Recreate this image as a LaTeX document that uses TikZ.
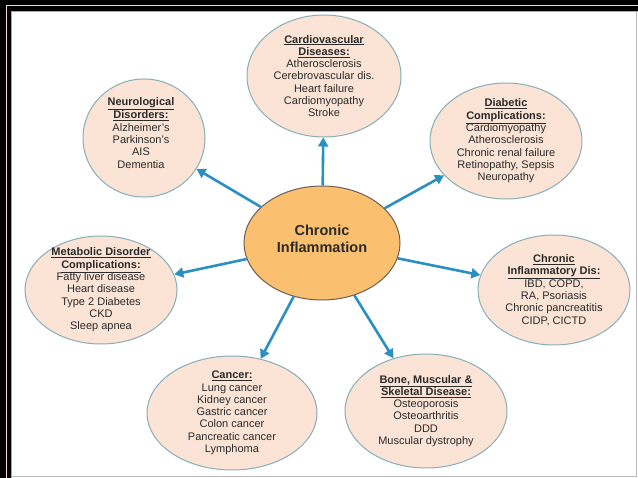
\documentclass[tikz,border=0pt]{standalone}
\usepackage{fontspec}
\setmainfont{Liberation Sans}
\usetikzlibrary{shapes.geometric,arrows.meta}
\definecolor{efill}{HTML}{FBE4D6}
\definecolor{edraw}{HTML}{86AEB8}
\definecolor{cfill}{HTML}{FAC070}
\definecolor{cdraw}{HTML}{6E5F55}
\definecolor{arrc}{HTML}{2B8FC2}
\definecolor{txt}{HTML}{2B2B2B}
\definecolor{pinkline}{HTML}{F5D5DF}
\begin{document}
\begin{tikzpicture}[x=1pt,y=-1pt,
  oval/.style={ellipse, draw=edraw, line width=1pt, fill=efill, inner sep=0pt},
  centeroval/.style={ellipse, draw=cdraw, line width=1pt, fill=cfill, inner sep=0pt},
  body/.style={align=center, text=txt, inner sep=0pt, font=\fontsize{11}{12.3}\selectfont},
  ctext/.style={align=center, text=txt, inner sep=0pt, font=\fontsize{14.5}{17}\selectfont\bfseries},
  arr/.style={draw=arrc, line width=2.6pt, -{Triangle[length=9pt,width=10pt]}}]
\useasboundingbox (0,0) rectangle (638,478);
% frame
\fill[black] (0,0) rectangle (638,478);
\draw[pinkline, line width=1pt] (6,478) -- (6,5.5) -- (638,5.5);
\fill[white] (11,11) rectangle (638,478);
\draw[gray!70, line width=1pt] (11.5,478) -- (11.5,11.5) -- (638,11.5);
\draw[gray!55, line width=0.8pt] (636,11) -- (636,476.5) -- (11,476.5);
% ellipses
\node[oval, minimum width=154pt, minimum height=122pt] (cv) at (324,76) {};
\node[oval, minimum width=122pt, minimum height=118pt] (neu) at (144,138) {};
\node[oval, minimum width=152pt, minimum height=116pt] (dia) at (506,141) {};
\node[oval, minimum width=152pt, minimum height=108pt] (met) at (101,290) {};
\node[oval, minimum width=152pt, minimum height=110pt] (cid) at (554,290) {};
\node[oval, minimum width=170pt, minimum height=114pt] (can) at (232,413) {};
\node[oval, minimum width=162pt, minimum height=114pt] (bon) at (426,411) {};
\node[centeroval, minimum width=156pt, minimum height=114pt] (c) at (322,243) {};
% texts
\node[body] (cvt) at (cv.center) {\underline{\textbf{Cardiovascular}}\\\underline{\textbf{Diseases:}}\\Atherosclerosis\\Cerebrovascular dis.\\Heart failure\\Cardiomyopathy\\Stroke};
\node[body] (neut) at ([yshift=5pt,xshift=-3pt]neu.center) {\underline{\textbf{Neurological}}\\\underline{\textbf{Disorders:}}\\Alzheimer's\\Parkinson's\\AIS\\Dementia};
\node[body] (diat) at (dia.center) {\underline{\textbf{Diabetic}}\\\underline{\textbf{Complications:}}\\Cardiomyopathy\\Atherosclerosis\\Chronic renal failure\\Retinopathy, Sepsis\\Neuropathy};
\node[body] (mett) at (met.center) {\underline{\textbf{Metabolic Disorder}}\\\underline{\textbf{Complications:}}\\Fatty liver disease\\Heart disease\\Type 2 Diabetes\\CKD\\Sleep apnea};
\node[body] (cidt) at (cid.center) {\underline{\textbf{Chronic}}\\\underline{\textbf{Inflammatory Dis:}}\\IBD, COPD,\\RA, Psoriasis\\Chronic pancreatitis\\CIDP, CICTD};
\node[body] (cant) at (can.center) {\underline{\textbf{Cancer:}}\\Lung cancer\\Kidney cancer\\Gastric cancer\\Colon cancer\\Pancreatic cancer\\Lymphoma};
\node[body] (bont) at (bon.center) {\underline{\textbf{Bone, Muscular \&}}\\\underline{\textbf{Skeletal Disease:}}\\Osteoporosis\\Osteoarthritis\\DDD\\Muscular dystrophy};
\node[ctext] (ct) at ([yshift=4pt]c.center) {Chronic\\Inflammation};
% arrows
\draw[arr] (c) -- (cv);
\draw[arr] (c) -- (neu);
\draw[arr] (c) -- (dia);
\draw[arr] (c) -- (met);
\draw[arr] (c) -- (cid);
\draw[arr] (c) -- (can);
\draw[arr] (c) -- (bon);
\end{tikzpicture}
\end{document}
